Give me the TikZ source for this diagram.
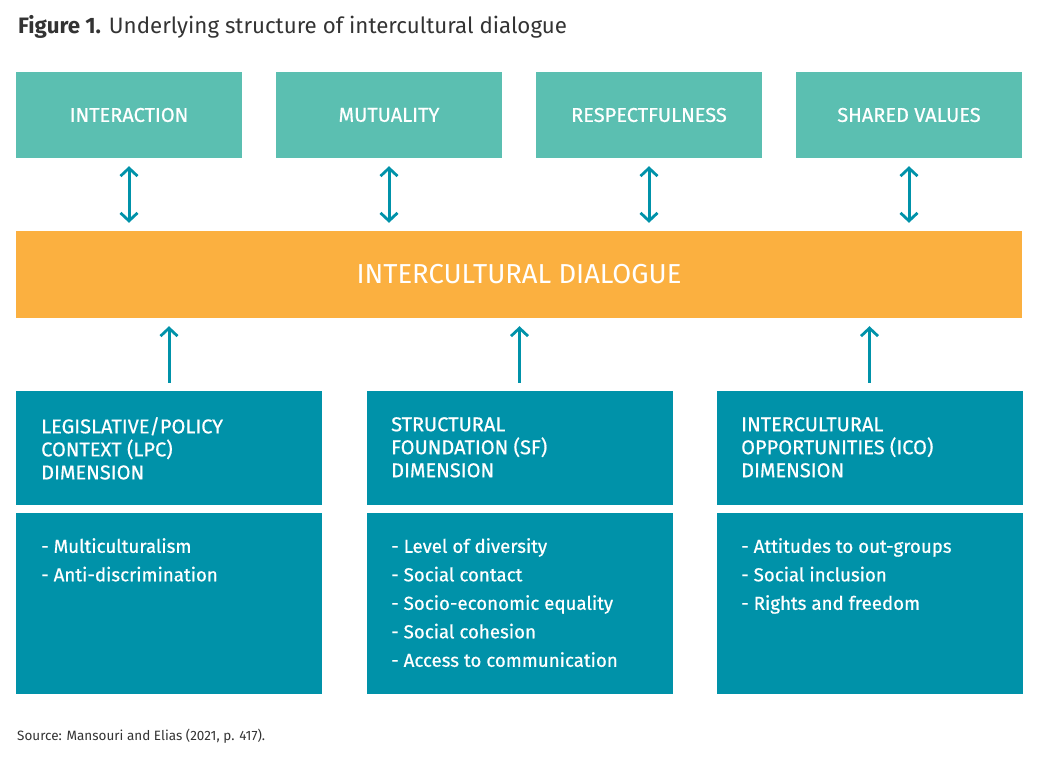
\documentclass[tikz,border=0pt]{standalone}
\usepackage{fontspec}
\setmainfont{Fira Sans}
\newfontfamily\medfont{Fira Sans}[FakeBold=0.6]
\usetikzlibrary{arrows.meta}
\definecolor{lteal}{HTML}{5BBFB1}
\definecolor{dteal}{HTML}{0092A9}
\definecolor{orng}{HTML}{FBB040}
\definecolor{txt}{HTML}{333333}
\tikzset{
  topbox/.style={fill=lteal, draw=none, minimum width=226pt, minimum height=86pt, text=white, font=\medfont\fontsize{20}{24}\selectfont, inner sep=0pt},
  headbox/.style={fill=dteal, draw=none, minimum width=306pt, minimum height=114pt, inner sep=0pt},
  bodybox/.style={fill=dteal, draw=none, minimum width=306pt, minimum height=181pt, inner sep=0pt},
  headtxt/.style={text=white, anchor=north west, align=left, inner sep=0pt, font=\medfont\fontsize{20}{23}\selectfont},
  bodytxt/.style={text=white, anchor=north west, align=left, inner sep=0pt, font=\medfont\fontsize{18.7}{28.5}\selectfont},
  barb/.tip={Straight Barb[length=8pt,width=17pt,line width=2.8pt]},
  arr/.style={draw=dteal, line width=3pt, -barb},
  darr/.style={draw=dteal, line width=3pt, barb-barb}
}
\begin{document}
\begin{tikzpicture}[x=1pt,y=-1pt]
\useasboundingbox (0,0) rectangle (1039,772);
\node[anchor=west, text=txt, inner sep=0pt, font=\fontsize{22.3}{26}\selectfont] (title) at (18,27) {\textbf{Figure 1.} Underlying structure of intercultural dialogue};
% top boxes
\node[topbox] (t1) at (129,115) {INTERACTION};
\node[topbox] (t2) at (389,115) {MUTUALITY};
\node[topbox] (t3) at (649,115) {RESPECTFULNESS};
\node[topbox] (t4) at (909,115) {SHARED VALUES};
% bar
\node[fill=orng, draw=none, minimum width=1006pt, minimum height=87pt, inner sep=0pt, text=white, font=\fontsize{27.4}{32}\selectfont] (bar) at (519,274.5) {\raisebox{-1.5pt}{INTERCULTURAL DIALOGUE}};
% double arrows
\foreach \i in {1,2,3,4}{
  \draw[darr, shorten <=8pt, shorten >=8pt] (t\i.south) -- (t\i.south |- bar.north);
}
% bottom header boxes
\node[headbox] (h1) at (169,448) {};
\node[headbox] (h2) at (519.5,448) {};
\node[headbox] (h3) at (869.5,448) {};
\node[bodybox] (b1) at (169,603.5) {};
\node[bodybox] (b2) at (519.5,603.5) {};
\node[bodybox] (b3) at (869.5,603.5) {};
% up arrows
\foreach \i in {1,2,3}{
  \draw[arr, shorten <=8pt, shorten >=8pt] (h\i.north) -- (h\i.north |- bar.south);
}
% header texts
\node[headtxt] (ht1) at (41,417) {LEGISLATIVE/POLICY\\CONTEXT (LPC)\\DIMENSION};
\node[headtxt] (ht2) at (391,417) {STRUCTURAL\\FOUNDATION (SF)\\DIMENSION};
\node[headtxt] (ht3) at (741,417) {INTERCULTURAL\\OPPORTUNITIES (ICO)\\DIMENSION};
% body texts
\node[bodytxt] (bt1) at (41,538) {- Multiculturalism\\- Anti-discrimination};
\node[bodytxt] (bt2) at (391,538) {- Level of diversity\\- Social contact\\- Socio-economic equality\\- Social cohesion\\- Access to communication};
\node[bodytxt] (bt3) at (741,538) {- Attitudes to out-groups\\- Social inclusion\\- Rights and freedom};
% source
\node[anchor=west, text=txt, inner sep=0pt, font=\fontsize{13.5}{16}\selectfont] (src) at (17,736) {Source: Mansouri and Elias (2021, p. 417).};
\end{tikzpicture}
\end{document}
